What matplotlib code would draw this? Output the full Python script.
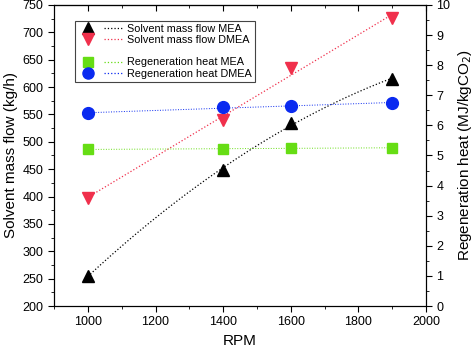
import numpy as np
import matplotlib.pyplot as plt
from matplotlib.lines import Line2D
from matplotlib.legend_handler import HandlerTuple
from matplotlib.ticker import MultipleLocator

plt.rcParams['font.family'] = ['Liberation Sans', 'DejaVu Sans']

rpm = [1000, 1400, 1600, 1900]
flow_mea = [255, 448, 535, 615]
flow_dmea = [398, 540, 635, 727]
heat_mea = [5.20, 5.22, 5.25, 5.25]
heat_dmea = [6.40, 6.60, 6.66, 6.74]

c_red = '#f0304c'
c_green = '#66dd14'
c_blue = '#0a2af0'

fig = plt.figure(figsize=(4.74, 3.55), dpi=100)
ax = fig.add_axes([0.114, 0.138, 0.785, 0.848])
ax2 = ax.twinx()

xs = np.linspace(rpm[0], rpm[-1], 200)
x = np.array(rpm)

# trend lines
ax.plot(xs, np.polyval(np.polyfit(x, flow_mea, 2), xs), ':', color='black', lw=0.9)
ax.plot(xs, np.polyval(np.polyfit(x, flow_dmea, 1), xs), ':', color=c_red, lw=0.9)
ax2.plot(xs, np.polyval(np.polyfit(x, heat_mea, 1), xs), ':', color=c_green, lw=0.7)
ax2.plot(xs, np.polyval(np.polyfit(x, heat_dmea, 1), xs), ':', color=c_blue, lw=0.7)

ax.plot(rpm, flow_mea, '^', color='black', ms=9, ls='none')
ax.plot(rpm, flow_dmea, 'v', color=c_red, ms=9, ls='none')
ax2.plot(rpm, heat_mea, 's', color=c_green, ms=7.5, ls='none')
ax2.plot(rpm, heat_dmea, 'o', color=c_blue, ms=8.5, ls='none')

ax.set_xlim(900, 2000)
ax.set_ylim(200, 750)
ax2.set_ylim(0, 10)

ax.xaxis.set_major_locator(MultipleLocator(200))
ax.xaxis.set_minor_locator(MultipleLocator(100))
ax.yaxis.set_major_locator(MultipleLocator(50))
ax.yaxis.set_minor_locator(MultipleLocator(25))
ax2.yaxis.set_major_locator(MultipleLocator(1))
ax2.yaxis.set_minor_locator(MultipleLocator(0.5))

for a, axis in ((ax, 'x'), (ax, 'y'), (ax2, 'y')):
    a.tick_params(axis=axis, which='both', direction='out', labelsize=9)
    a.tick_params(axis=axis, which='major', length=4)
    a.tick_params(axis=axis, which='minor', length=2.5)

# top ticks point inward
sec = ax.secondary_xaxis('top')
sec.xaxis.set_major_locator(MultipleLocator(200))
sec.xaxis.set_minor_locator(MultipleLocator(100))
sec.tick_params(which='both', direction='in', labeltop=False)
sec.tick_params(which='major', length=4)
sec.tick_params(which='minor', length=2.5)

ax.set_xlabel('RPM', fontsize=11, labelpad=4)
ax.set_ylabel('Solvent mass flow (kg/h)', fontsize=11, labelpad=3)
ax2.set_ylabel('Regeneration heat (MJ/kgCO$_2$)', fontsize=11, labelpad=4)

def handle(marker, color, ms):
    m = Line2D([], [], marker=marker, color=color, ms=ms, ls='none')
    l = Line2D([], [], ls=':', color=color, lw=0.9)
    return (m, l)

blank = Line2D([], [], ls='none')
handles = [handle('^', 'black', 9), handle('v', c_red, 9), blank,
           handle('s', c_green, 7), handle('o', c_blue, 8)]
labels = ['Solvent mass flow MEA', 'Solvent mass flow DMEA', ' ',
          'Regeneration heat MEA', 'Regeneration heat DMEA']
leg = ax.legend(handles, labels, loc='upper left', bbox_to_anchor=(0.055, 0.947),
                handler_map={tuple: HandlerTuple(ndivide=None, pad=0.6)},
                handlelength=4.2, fontsize=7.8, fancybox=False, edgecolor='#444444',
                framealpha=1, borderpad=0.3, labelspacing=0.1, handletextpad=0.3,
                borderaxespad=0)
leg.get_frame().set_linewidth(0.8)

fig.savefig('out.png', dpi=100)
